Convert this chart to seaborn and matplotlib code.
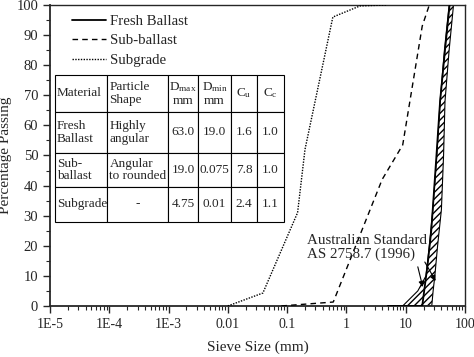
import numpy as np
import pandas as pd
import seaborn as sns
import matplotlib.pyplot as plt
from matplotlib.table import Table
from matplotlib.ticker import FixedLocator, MultipleLocator, LogLocator, NullFormatter

# grading curves (sieve size in mm, % passing)
fresh_size = [5.0, 19.0, 23.5, 27.0, 33.0, 38.0, 46.0, 55.0]
fresh_pass = [0, 0, 14, 25, 50, 68, 85, 100]
sub_size = [0.08, 0.6, 4.0, 8.9, 19.0, 25.0]
sub_pass = [0, 1.3, 42, 53.5, 93, 100]
grade_size = [0.01, 0.039, 0.15, 0.2, 0.59, 1.7, 4.75]
grade_pass = [0, 4.3, 31, 52, 96, 99.7, 100]

# AS 2758.7 envelope (hatched band)
band_pass = [0, 5, 10, 20, 32, 50, 68, 85, 100]
band_fine = [8.9, 16, 22, 25, 28.6, 33.5, 38, 45, 54]
band_coarse = [27.5, 29, 31, 34.5, 40, 43.5, 46, 54, 64]

# table contents
tab_header = ["Material", "Particle\nShape", "D$_\\mathrm{max}$\nmm", "D$_\\mathrm{min}$\nmm",
              "C$_\\mathrm{u}$", "C$_\\mathrm{c}$"]
tab_rows = [
    ["Fresh\nBallast", "Highly\nangular", "63.0", "19.0", "1.6", "1.0"],
    ["Sub-\nballast", "Angular\nto rounded", "19.0", "0.075", "7.8", "1.0"],
    ["Subgrade", "-", "4.75", "0.01", "2.4", "1.1"],
]

xticks = [1e-5, 1e-4, 1e-3, 0.01, 0.1, 1, 10, 100]
xticklabels = ["1E-5", "1E-4", "1E-3", "0.01", "0.1", "1", "10", "100"]

sns.set_style("ticks")
plt.rcParams["font.family"] = ["Liberation Serif", "DejaVu Serif"]
plt.rcParams["mathtext.fontset"] = "custom"
plt.rcParams["mathtext.rm"] = "Liberation Serif"
plt.rcParams["mathtext.it"] = "Liberation Serif:italic"

fig, ax = plt.subplots(figsize=(4.74, 3.57), dpi=100)
fig.subplots_adjust(left=0.1055, right=0.981, bottom=0.143, top=0.986)

ax.set_xscale("log")

# hatched standard band
ax.fill_betweenx(band_pass, band_fine, band_coarse, facecolor="white",
                 edgecolor="black", hatch="/////", linewidth=0.8, zorder=1)

sns.lineplot(x=fresh_size, y=fresh_pass, ax=ax, color="black", lw=1.3,
             sort=False, estimator=None, label="Fresh Ballast", zorder=3)
sns.lineplot(x=sub_size, y=sub_pass, ax=ax, color="black", lw=1.0,
             linestyle=(0, (4, 3)), sort=False, estimator=None,
             label="Sub-ballast", zorder=3)
sns.lineplot(x=grade_size, y=grade_pass, ax=ax, color="black", lw=1.0,
             linestyle=(0, (1, 1)), sort=False, estimator=None,
             label="Subgrade", zorder=3)

ax.set_xlim(1e-5, 100)
ax.set_ylim(0, 100)
ax.xaxis.set_major_locator(FixedLocator(xticks))
ax.set_xticklabels(xticklabels)
ax.xaxis.set_minor_locator(LogLocator(base=10, subs=np.arange(2, 10), numticks=20))
ax.xaxis.set_minor_formatter(NullFormatter())
ax.yaxis.set_major_locator(MultipleLocator(10))
ax.yaxis.set_minor_locator(MultipleLocator(5))
ax.tick_params(which="major", direction="out", length=5, width=1, labelsize=10.5,
               top=False, right=False)
ax.tick_params(axis="x", labelsize=10)
ax.tick_params(which="minor", direction="out", length=3, width=0.8,
               top=False, right=False)
for sp in ax.spines.values():
    sp.set_visible(True)
    sp.set_linewidth(1.0)
ax.spines["bottom"].set_linewidth(1.3)
ax.spines["left"].set_linewidth(1.3)

ax.set_xlabel("Sieve Size (mm)", fontsize=11, labelpad=7)
ax.set_ylabel("Percentage Passing", fontsize=11, labelpad=3)

ax.legend(loc="upper left", bbox_to_anchor=(0.03, 1.0), frameon=False,
          fontsize=10.7, handlelength=2.3, handletextpad=0.25, labelspacing=0.4,
          borderaxespad=0.25)

# annotation with two arrows
ax.text(0.22, 19.5, "Australian Standard\nAS 2758.7 (1996)", fontsize=10.8,
        ha="left", va="center", linespacing=1.0, zorder=4)
ax.annotate("", xy=(19.4, 6.3), xytext=(16, 13),
            arrowprops=dict(arrowstyle="-|>", color="black", lw=0.8,
                            mutation_scale=8, shrinkA=0, shrinkB=0))
ax.annotate("", xy=(32, 8.3), xytext=(21, 14.6),
            arrowprops=dict(arrowstyle="-|>", color="black", lw=0.8,
                            mutation_scale=8, shrinkA=0, shrinkB=0))

# material table
col_w = [52, 61, 30, 33, 26, 27]
row_h = [37, 41, 34, 35]
ax_w, ax_h = 415.0, 301.0
tab = Table(ax, bbox=[5 / ax_w, 84 / ax_h, sum(col_w) / ax_w, sum(row_h) / ax_h])
for r, row in enumerate([tab_header] + tab_rows):
    for c, txt in enumerate(row):
        loc = "left" if (c < 2 and txt != "-") else "center"
        cell = tab.add_cell(r, c, width=col_w[c] / ax_w, height=row_h[r] / ax_h,
                            text=txt, loc=loc)
        cell.PAD = 0.04
        cell.set_linewidth(0.8)
        cell.set_facecolor("white")
        cell.get_text().set_fontsize(9.5)
        cell.get_text().set_linespacing(1.1)
tab.auto_set_font_size(False)
tab.set_zorder(5)
ax.add_table(tab)

fig.savefig("out.png", dpi=100)
